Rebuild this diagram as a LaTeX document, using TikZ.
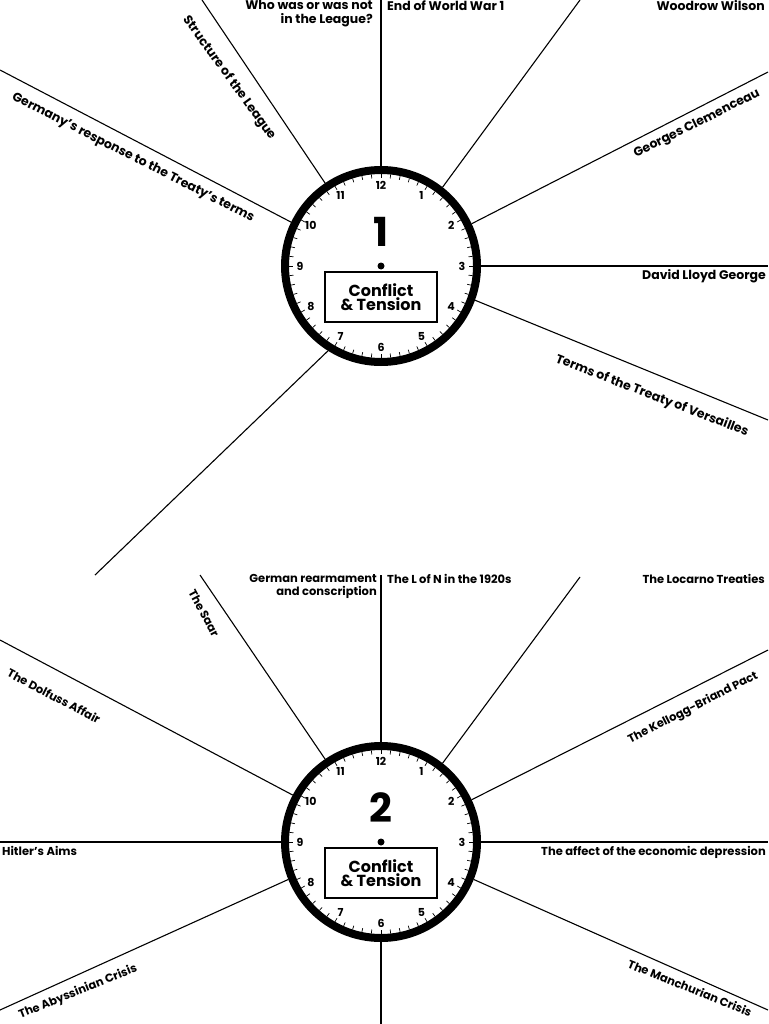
\documentclass[tikz,border=0pt]{standalone}
\usepackage{fontspec}
\setmainfont{Poppins}
\usetikzlibrary{calc}
\begin{document}
\begin{tikzpicture}[x=1pt,y=-1pt,
  lab/.style={font=\bfseries\fontsize{12.5}{14}\selectfont,inner sep=1pt},
  labc/.style={font=\bfseries\fontsize{11.5}{13.5}\selectfont,inner sep=1pt},
  ray/.style={line width=1.1pt},
  clockface/.style={circle,draw,line width=8pt,minimum size=192pt,inner sep=0pt}]
\useasboundingbox (0,0) rectangle (768,1024);
\newcommand\myclock[3]{%
  \node[clockface] (#1) at (#2) {};
  \foreach \i in {0,...,59}{\draw[line width=0.7pt] ($(#2)+(\i*6:92)$) -- ($(#2)+(\i*6:88)$);}
  \foreach \h in {1,...,12}{\node[font=\bfseries\fontsize{11}{11}\selectfont,inner sep=0] at ($(#2)+(\h*30-90:81)$) {\h};}
  \fill ($(#2)$) circle (3.5);
  \node[font=\bfseries\fontsize{40}{40}\selectfont,inner sep=0] (#1n) at ($(#2)+(0,-34)$) {#3};
  \node[draw,line width=1.2pt,font=\bfseries\fontsize{16}{17}\selectfont,align=center,minimum width=112pt,minimum height=50pt,inner sep=1pt] (#1b) at ($(#2)+(0,31)$) {Conflict\\[-3pt]\& Tension};
}
\myclock{ca}{381,266}{1}
\myclock{cb}{381,842}{2}
% clock 1 rays
\coordinate (a12) at (381,0); \coordinate (a1) at (580,0); \coordinate (a2) at (768,72);
\coordinate (a3) at (768,266); \coordinate (a4) at (768,420); \coordinate (a7) at (95,575);
\coordinate (a10) at (0,70); \coordinate (a11) at (202,0);
\draw[ray] (ca.90) -- (a12); \draw[ray] (ca.52) -- (a1); \draw[ray] (ca.25) -- (a2);
\draw[ray] (ca.0) -- (a3); \draw[ray] (ca.-20) -- (a4); \draw[ray] (ca.-122) -- (a7);
\draw[ray] (ca.154) -- (a10); \draw[ray] (ca.124) -- (a11);
\node[lab,align=right,anchor=north east] (t1) at (374,-1) {Who was or was not\\in the League?};
\node[lab,anchor=north west] (t2) at (386,0) {End of World War 1};
\node[lab,anchor=north east] (t3) at (766,-1) {Woodrow Wilson};
\node[lab,anchor=north east] (t4) at (767,268) {David Lloyd George};
\node[lab,rotate=-54] (t5) at (229,78) {Structure of the League};
\node[lab,rotate=26.5] (t6) at (697,124) {Georges Clemenceau};
\node[lab,rotate=-21] (t7) at (652,396) {Terms of the Treaty of Versailles};
\node[lab,rotate=-27] (t8) at (133,158) {Germany’s response to the Treaty’s terms};
% clock 2 rays
\coordinate (b12) at (381,575); \coordinate (b1) at (580,577); \coordinate (b2) at (768,650);
\coordinate (b3) at (768,842); \coordinate (b4) at (768,1010); \coordinate (b6) at (381,1024);
\coordinate (b8) at (0,1010); \coordinate (b9) at (0,842); \coordinate (b10) at (0,640);
\coordinate (b11) at (200,575);
\draw[ray] (cb.90) -- (b12); \draw[ray] (cb.52) -- (b1); \draw[ray] (cb.25) -- (b2);
\draw[ray] (cb.0) -- (b3); \draw[ray] (cb.-22) -- (b4); \draw[ray] (cb.-90) -- (b6);
\draw[ray] (cb.-158) -- (b8); \draw[ray] (cb.180) -- (b9); \draw[ray] (cb.152) -- (b10);
\draw[ray] (cb.124) -- (b11);
\node[labc,align=right,anchor=north east] (u1) at (378,573) {German rearmament\\and conscription};
\node[labc,anchor=north west] (u2) at (386,573) {The L of N in the 1920s};
\node[labc,anchor=north east] (u3) at (766,573) {The Locarno Treaties};
\node[labc,anchor=north east] (u4) at (767,845) {The affect of the economic depression};
\node[labc,anchor=north west] (u5) at (1,845) {Hitler’s Aims};
\node[labc,rotate=-62] (u6) at (204,613) {The Saar};
\node[labc,rotate=27] (u7) at (693,708) {The Kellogg-Briand Pact};
\node[labc,rotate=-22] (u8) at (690,988) {The Manchurian Crisis};
\node[labc,rotate=22] (u9) at (78,992) {The Abyssinian Crisis};
\node[labc,rotate=-28] (u10) at (54,696) {The Dolfuss Affair};
\end{tikzpicture}
\end{document}
